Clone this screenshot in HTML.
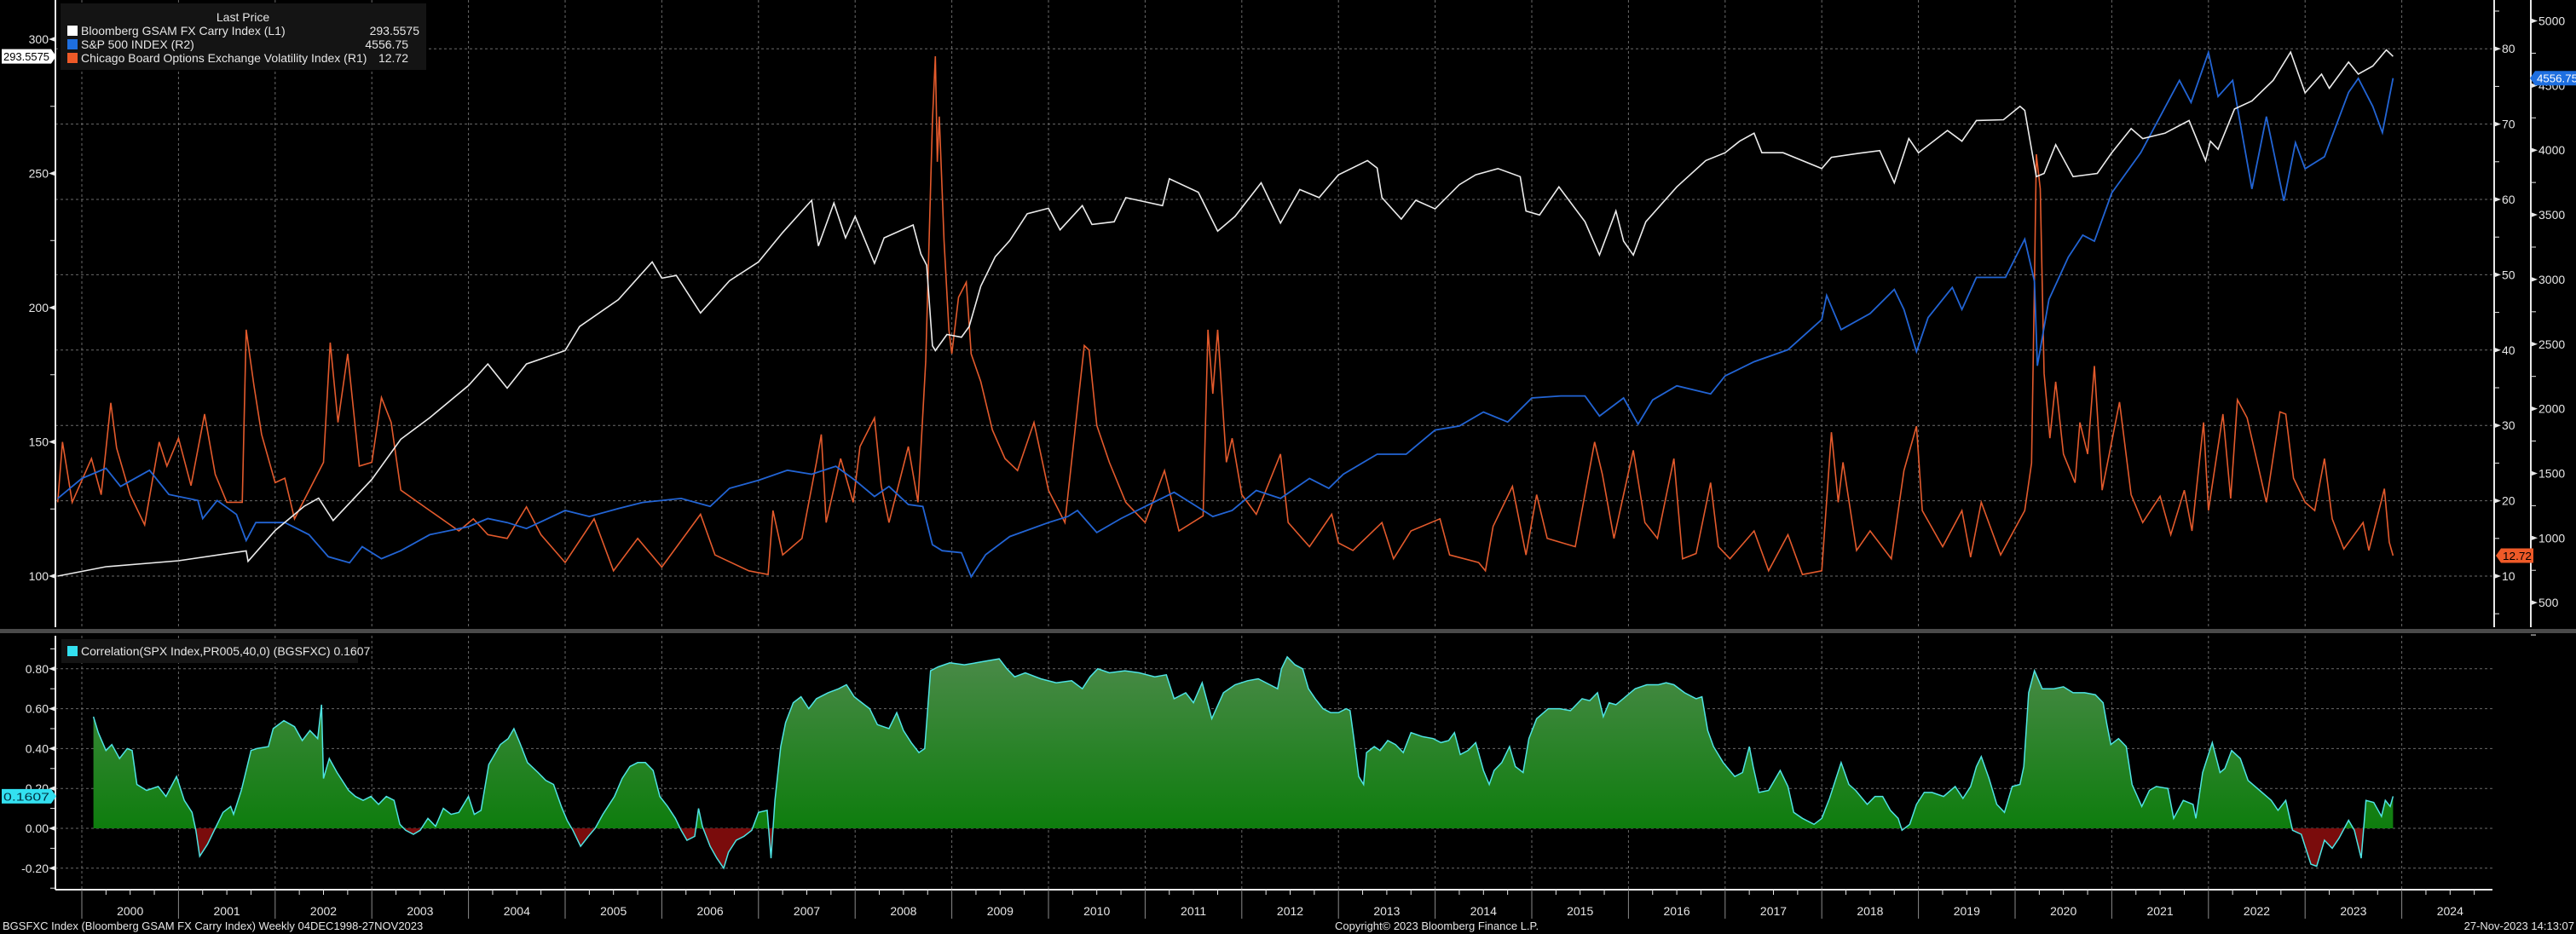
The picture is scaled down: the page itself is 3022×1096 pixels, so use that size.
<!DOCTYPE html>
<html><head><meta charset="utf-8"><title>BGSFXC vs SPX vs VIX</title>
<style>
html,body{margin:0;padding:0;background:#000;}
svg{display:block;}
text{font-family:"Liberation Sans",sans-serif;}
</style></head>
<body>
<svg id="chart" width="3022" height="1096" viewBox="0 0 3022 1096" xmlns="http://www.w3.org/2000/svg">
<defs>
<linearGradient id="gfill" x1="0" y1="0" x2="0" y2="1">
<stop offset="0" stop-color="#4a8a48"/><stop offset="1" stop-color="#007a00"/>
</linearGradient>
<clipPath id="clipPos"><rect x="0" y="0" width="3022" height="972"/></clipPath>
<clipPath id="clipNeg"><rect x="0" y="972" width="3022" height="200"/></clipPath>
</defs>
<g id="grid"></g>
<g id="axes"></g>
<g id="series"></g>
<g id="labels"></g>
</svg>
<script>
// ---- data (decimal years) ----
const carryT=[1999.75,2000.25,2001.0,2001.7,2001.72,2002.0,2002.3,2002.45,2002.6,2003.0,2003.3,2003.6,2004.0,2004.2,2004.4,2004.6,2005.0,2005.15,2005.55,2005.9,2006.0,2006.15,2006.4,2006.7,2007.0,2007.25,2007.55,2007.62,2007.78,2007.9,2008.0,2008.2,2008.3,2008.6,2008.68,2008.74,2008.8,2008.83,2008.95,2009.1,2009.18,2009.3,2009.45,2009.6,2009.78,2010.0,2010.12,2010.35,2010.45,2010.68,2010.8,2011.18,2011.25,2011.55,2011.75,2011.93,2012.2,2012.4,2012.6,2012.8,2013.0,2013.3,2013.4,2013.45,2013.65,2013.8,2014.0,2014.25,2014.42,2014.65,2014.88,2014.94,2015.08,2015.28,2015.55,2015.7,2015.87,2015.95,2016.05,2016.18,2016.5,2016.8,2017.0,2017.15,2017.3,2017.38,2017.6,2018.0,2018.1,2018.38,2018.6,2018.75,2018.9,2019.0,2019.3,2019.45,2019.6,2019.88,2020.05,2020.1,2020.22,2020.3,2020.42,2020.6,2020.85,2021.0,2021.2,2021.32,2021.55,2021.8,2021.97,2022.02,2022.1,2022.27,2022.45,2022.67,2022.85,2023.0,2023.17,2023.25,2023.45,2023.55,2023.7,2023.84,2023.91];
const carryV=[100,103.5,105.7,109.4,105.5,117,126,129,120.7,136,151,159,171,179,170,179,184,193,203,217,211,212,198,210,217,228,240,223,239,226,234,216.5,226,230.8,220,215.8,185.8,184,190,189,193,208,219,225,235,237,229,238,231,232,241,238,248,243,228.5,234,246.5,231.5,244,241,249.5,254.8,252,241,233,240,236.8,245.8,249.5,251.8,248.8,236,234.5,245,232,219.6,236,224.8,219.6,232,245,254.8,257.7,262,265,257.7,257.7,251.8,256,257.5,258.5,246.5,263,257.7,266,262,269.7,270,275,273.5,248.8,250,260.7,248.8,250,257.7,266.7,263,265,269.7,254.8,262,259,274,277,284.7,295.2,280,287,281.7,291.5,287,290,296,293.6];

const spxT=[1999.75,2000.0,2000.25,2000.4,2000.7,2000.9,2001.2,2001.25,2001.4,2001.6,2001.7,2001.8,2002.1,2002.35,2002.55,2002.77,2002.9,2003.1,2003.3,2003.6,2004.0,2004.2,2004.4,2004.6,2005.0,2005.25,2005.55,2005.8,2006.2,2006.5,2006.7,2007.0,2007.3,2007.55,2007.8,2008.0,2008.2,2008.35,2008.55,2008.7,2008.8,2008.9,2009.1,2009.2,2009.35,2009.6,2010.0,2010.2,2010.3,2010.5,2010.75,2011.0,2011.3,2011.7,2011.9,2012.15,2012.4,2012.7,2012.9,2013.05,2013.4,2013.7,2014.0,2014.25,2014.5,2014.75,2015.0,2015.3,2015.55,2015.7,2015.95,2016.1,2016.25,2016.5,2016.85,2017.0,2017.3,2017.65,2018.0,2018.05,2018.2,2018.5,2018.75,2018.85,2018.98,2019.1,2019.35,2019.45,2019.6,2019.9,2020.1,2020.2,2020.23,2020.35,2020.55,2020.7,2020.82,2021.0,2021.3,2021.5,2021.7,2021.82,2022.0,2022.1,2022.25,2022.45,2022.6,2022.78,2022.9,2023.0,2023.2,2023.45,2023.55,2023.7,2023.8,2023.91];
const spxV=[1306,1461,1539,1399,1524,1337,1290,1150,1290,1182,980,1119,1119,1026,855,808,933,840,902,1026,1088,1150,1119,1073,1213,1166,1228,1275,1306,1244,1384,1446,1524,1493,1555,1446,1321,1399,1259,1244,948,902,886,700,871,1011,1119,1166,1213,1042,1150,1244,1353,1166,1213,1368,1306,1461,1384,1493,1648,1648,1835,1866,1974,1897,2083,2099,2099,1943,2083,1881,2068,2177,2114,2254,2363,2456,2690,2876,2612,2736,2923,2767,2441,2705,2938,2767,3016,3016,3312,2985,2332,2845,3172,3343,3296,3669,3980,4260,4540,4369,4757,4415,4540,3700,4260,3607,4058,3856,3949,4447,4555,4338,4136,4556.75];

const vixT=[1999.75,1999.8,1999.9,2000.1,2000.2,2000.3,2000.36,2000.5,2000.65,2000.8,2000.88,2001.0,2001.13,2001.27,2001.38,2001.5,2001.66,2001.7,2001.78,2001.86,2002.0,2002.1,2002.2,2002.5,2002.57,2002.65,2002.75,2002.87,2003.0,2003.1,2003.2,2003.3,2003.6,2003.9,2004.05,2004.2,2004.4,2004.6,2004.75,2005.0,2005.3,2005.5,2005.75,2006.0,2006.4,2006.55,2006.9,2007.1,2007.15,2007.25,2007.45,2007.6,2007.65,2007.7,2007.85,2007.98,2008.05,2008.2,2008.27,2008.35,2008.55,2008.65,2008.73,2008.8,2008.83,2008.85,2008.87,2008.92,2008.97,2009.0,2009.07,2009.15,2009.2,2009.3,2009.42,2009.55,2009.68,2009.85,2010.0,2010.17,2010.37,2010.42,2010.5,2010.63,2010.8,2011.0,2011.2,2011.35,2011.6,2011.65,2011.7,2011.75,2011.84,2011.9,2012.0,2012.15,2012.4,2012.48,2012.7,2012.93,2013.0,2013.15,2013.45,2013.57,2013.75,2014.05,2014.15,2014.45,2014.52,2014.6,2014.8,2014.94,2015.05,2015.16,2015.45,2015.65,2015.73,2015.85,2016.05,2016.17,2016.3,2016.47,2016.56,2016.7,2016.85,2016.93,2017.05,2017.3,2017.45,2017.65,2017.8,2018.0,2018.1,2018.17,2018.22,2018.36,2018.5,2018.72,2018.85,2018.98,2019.04,2019.25,2019.45,2019.54,2019.65,2019.85,2020.1,2020.17,2020.2,2020.22,2020.26,2020.3,2020.36,2020.42,2020.5,2020.62,2020.67,2020.75,2020.82,2020.9,2021.08,2021.2,2021.32,2021.5,2021.61,2021.75,2021.83,2021.95,2022.0,2022.15,2022.23,2022.3,2022.4,2022.6,2022.74,2022.8,2022.88,2023.0,2023.1,2023.2,2023.28,2023.4,2023.6,2023.66,2023.82,2023.87,2023.91];
const vixV=[19.8,27.8,19.8,25.6,20.8,33,27,20.8,16.8,27.8,24.6,28.3,22,31.5,23.5,19.8,19.8,42.7,35.3,28.8,22.4,23,17.6,25.1,41,30.4,39.5,24.6,25.1,33.7,30.4,21.4,18.7,16,17.6,15.5,15,19.2,15.5,11.8,17.6,10.7,15,11.2,18.2,12.8,10.7,10.2,18.7,12.8,15,25.1,28.8,17.1,25.6,19.8,27.2,31,22,17.1,27.2,19.8,38.5,70.5,79,65,71,54.5,42.7,39.5,47,49,39.5,35.8,29.4,25.6,24,30.4,21.4,17.1,40.6,40,30,25.1,19.8,17.1,24,16,18,42.7,34.2,42.7,25.1,28.3,20.8,18.2,26.2,17.1,13.9,18.2,14.4,13.4,17.1,12.3,16,17.6,12.8,11.8,10.7,16.6,21.9,12.8,20.8,15,13.9,27.8,23.5,15,26.7,17.1,15,25.6,12.3,13,22.4,13.9,12.3,16,10.7,15.5,10.2,10.7,29.1,19.8,25.1,13.4,16,12.3,24,29.9,18.7,13.9,18.7,12.5,19.8,12.8,18.7,25,49.1,66,61.4,36.9,28.3,35.8,26.2,22.4,30.4,26.2,37.9,21.4,33.1,20.8,17.1,20.6,15.5,21.4,16,30.4,18.7,31.5,20.3,33.4,31,19.8,31.8,31.5,23,19.8,18.7,25.6,17.6,13.6,17.1,13.4,21.6,14.5,12.72];

// correlation as [decimal year, value] pairs
const corrPts=[[2000.12,.56],[2000.17,.48],[2000.25,.39],[2000.31,.42],[2000.39,.35],[2000.47,.40],[2000.52,.39],[2000.57,.22],[2000.67,.19],[2000.79,.21],[2000.87,.16],[2000.98,.26],[2001.06,.14],[2001.14,.08],[2001.18,-.01],[2001.22,-.14],[2001.30,-.08],[2001.38,0],[2001.46,.08],[2001.54,.11],[2001.57,.07],[2001.65,.19],[2001.75,.39],[2001.81,.40],[2001.93,.41],[2001.98,.50],[2002.09,.54],[2002.20,.51],[2002.28,.44],[2002.36,.49],[2002.44,.45],[2002.48,.62],[2002.50,.25],[2002.56,.35],[2002.64,.28],[2002.76,.19],[2002.83,.16],[2002.91,.14],[2002.99,.16],[2003.07,.12],[2003.15,.16],[2003.23,.14],[2003.29,.02],[2003.35,-.01],[2003.43,-.03],[2003.50,-.01],[2003.58,.05],[2003.66,.01],[2003.74,.10],[2003.82,.07],[2003.90,.08],[2004.0,.16],[2004.06,.07],[2004.13,.09],[2004.21,.32],[2004.33,.42],[2004.41,.45],[2004.47,.50],[2004.53,.43],[2004.61,.33],[2004.72,.28],[2004.80,.24],[2004.88,.22],[2004.96,.11],[2005.02,.04],[2005.08,-.01],[2005.16,-.09],[2005.24,-.04],[2005.31,0],[2005.39,.07],[2005.51,.16],[2005.59,.25],[2005.67,.31],[2005.75,.33],[2005.83,.33],[2005.91,.29],[2005.98,.16],[2006.06,.11],[2006.14,.05],[2006.20,-.01],[2006.26,-.06],[2006.34,-.04],[2006.38,.10],[2006.42,.01],[2006.50,-.09],[2006.57,-.15],[2006.64,-.20],[2006.69,-.12],[2006.77,-.06],[2006.85,-.04],[2006.93,-.01],[2007.0,.08],[2007.09,.09],[2007.13,-.15],[2007.17,.14],[2007.23,.41],[2007.28,.53],[2007.36,.63],[2007.44,.66],[2007.52,.60],[2007.60,.65],[2007.72,.68],[2007.83,.70],[2007.91,.72],[2007.99,.66],[2008.07,.63],[2008.15,.60],[2008.23,.52],[2008.35,.50],[2008.43,.58],[2008.50,.49],[2008.58,.43],[2008.66,.38],[2008.72,.40],[2008.78,.79],[2008.86,.81],[2008.98,.83],[2009.13,.82],[2009.25,.83],[2009.37,.84],[2009.49,.85],[2009.57,.80],[2009.65,.76],[2009.76,.78],[2009.92,.75],[2010.08,.73],[2010.24,.74],[2010.35,.70],[2010.43,.76],[2010.51,.80],[2010.63,.78],[2010.79,.79],[2010.94,.78],[2011.10,.76],[2011.22,.77],[2011.30,.65],[2011.42,.68],[2011.50,.63],[2011.59,.73],[2011.69,.55],[2011.81,.68],[2011.93,.72],[2012.06,.74],[2012.17,.75],[2012.29,.72],[2012.37,.70],[2012.41,.80],[2012.47,.86],[2012.55,.82],[2012.63,.80],[2012.69,.70],[2012.76,.65],[2012.84,.60],[2012.92,.58],[2013.0,.58],[2013.08,.60],[2013.12,.59],[2013.16,.45],[2013.21,.26],[2013.26,.22],[2013.29,.38],[2013.37,.41],[2013.43,.39],[2013.51,.44],[2013.59,.42],[2013.67,.38],[2013.75,.48],[2013.87,.46],[2013.98,.45],[2014.06,.43],[2014.14,.44],[2014.20,.48],[2014.26,.37],[2014.34,.39],[2014.42,.43],[2014.50,.29],[2014.56,.22],[2014.61,.29],[2014.69,.33],[2014.77,.41],[2014.83,.31],[2014.91,.28],[2014.97,.45],[2015.05,.55],[2015.17,.60],[2015.29,.60],[2015.40,.59],[2015.52,.65],[2015.60,.64],[2015.68,.68],[2015.74,.56],[2015.80,.63],[2015.87,.62],[2015.97,.66],[2016.07,.70],[2016.19,.72],[2016.31,.72],[2016.39,.73],[2016.47,.72],[2016.58,.68],[2016.70,.65],[2016.76,.66],[2016.82,.49],[2016.88,.41],[2016.98,.33],[2017.10,.26],[2017.18,.28],[2017.25,.41],[2017.29,.31],[2017.35,.18],[2017.45,.19],[2017.57,.29],[2017.65,.21],[2017.71,.08],[2017.80,.05],[2017.92,.02],[2018.0,.05],[2018.08,.15],[2018.20,.33],[2018.28,.22],[2018.35,.19],[2018.47,.12],[2018.55,.16],[2018.63,.16],[2018.71,.09],[2018.79,.05],[2018.83,-.01],[2018.91,.02],[2018.98,.12],[2019.06,.18],[2019.14,.18],[2019.26,.16],[2019.38,.21],[2019.46,.15],[2019.54,.21],[2019.60,.31],[2019.65,.36],[2019.73,.25],[2019.81,.12],[2019.89,.08],[2019.97,.21],[2020.05,.22],[2020.09,.31],[2020.14,.68],[2020.20,.79],[2020.28,.70],[2020.40,.70],[2020.50,.71],[2020.60,.68],[2020.72,.68],[2020.83,.67],[2020.91,.63],[2020.95,.52],[2020.99,.42],[2021.07,.45],[2021.15,.41],[2021.21,.22],[2021.31,.11],[2021.39,.19],[2021.46,.21],[2021.58,.20],[2021.64,.05],[2021.74,.14],[2021.84,.12],[2021.87,.05],[2021.94,.28],[2022.04,.43],[2022.12,.28],[2022.17,.30],[2022.24,.39],[2022.33,.35],[2022.41,.24],[2022.53,.19],[2022.65,.14],[2022.72,.09],[2022.80,.14],[2022.87,-.01],[2022.96,-.03],[2023.06,-.18],[2023.12,-.19],[2023.20,-.06],[2023.28,-.10],[2023.35,-.05],[2023.45,.04],[2023.51,-.01],[2023.58,-.15],[2023.63,.14],[2023.71,.13],[2023.79,.06],[2023.83,.14],[2023.88,.11],[2023.91,.1607]];

const leftTicks=[100,150,200,250,300];
const vixTicks=[10,20,30,40,50,60,70,80];
const spxTicks=[500,1000,1500,2000,2500,3000,3500,4000,4500,5000];
const corrTicks=[-0.2,0,0.2,0.4,0.6,0.8];
const years=[2000,2001,2002,2003,2004,2005,2006,2007,2008,2009,2010,2011,2012,2013,2014,2015,2016,2017,2018,2019,2020,2021,2022,2023,2024];

// ---- axis functions ----
const X0=96, PXY=113.4;
const xT=t=>X0+(t-2000)*PXY;
const yL=v=>676-(v-100)*3.15;
const yV=v=>676-(v-10)*8.84;
const yS=v=>783-v*0.1517;
const yC=v=>972-v*234;
const NS='http://www.w3.org/2000/svg';
function mk(tag,attrs,parent){const e=document.createElementNS(NS,tag);for(const k in attrs)e.setAttribute(k,attrs[k]);parent.appendChild(e);return e;}
const G=document.getElementById('grid'),A=document.getElementById('axes'),S=document.getElementById('series'),L=document.getElementById('labels');
const LEFT=65, RV=2926, RS=2969, RB=2924;

vixTicks.forEach(v=>{const e=mk('line',{x1:LEFT,x2:RV,y1:yV(v),y2:yV(v),stroke:'#6a6a6a','stroke-width':1,'stroke-dasharray':'3,3'},G);

});
corrTicks.forEach(v=>{const e=mk('line',{x1:LEFT,x2:RB,y1:yC(v),y2:yC(v),stroke:'#6a6a6a','stroke-width':1,'stroke-dasharray':'3,3'},G);

});
years.forEach(y=>{const x=xT(y);if(x>RB)return;
const e=mk('line',{x1:x,x2:x,y1:0,y2:736,stroke:'#6a6a6a','stroke-width':1,'stroke-dasharray':'3,3'},G);


const f=mk('line',{x1:x,x2:x,y1:746,y2:1043,stroke:'#6a6a6a','stroke-width':1,'stroke-dasharray':'3,3'},G);

});

[[LEFT,0,LEFT,736],[RV,0,RV,736],[RS,0,RS,736],[LEFT,746,LEFT,1044],[LEFT,1044,RB,1044]].forEach(a=>{
const e=mk('line',{x1:a[0],y1:a[1],x2:a[2],y2:a[3],stroke:'#e8e8e8','stroke-width':2},A);

});
const sep=mk('rect',{x:0,y:738,width:3022,height:5,fill:'#4a4a4a'},A);



function tri(x,y,dir,parent){const d=dir>0?`M${x},${y-3} L${x+8},${y} L${x},${y+3}Z`:`M${x},${y-3} L${x-8},${y} L${x},${y+3}Z`;return mk('path',{d:d,fill:'#e8e8e8'},parent);}
function txt(s,x,y,anchor,size,fill,parent){const e=mk('text',{x:x,y:y,'text-anchor':anchor,'font-size':size,fill:fill||'#e6e6e6'},parent);e.textContent=s;return e;}

for(let v=100;v<=300;v+=25){const e=mk('line',{x1:LEFT-6,x2:LEFT,y1:yL(v),y2:yL(v),stroke:'#e8e8e8'},A);

}
leftTicks.forEach(v=>{tri(LEFT,yL(v),-1,A);const t=txt(String(v),57,yL(v)+5,'end',14,null,L);

});
for(let v=5;v<=85;v+=5){const e=mk('line',{x1:RV,x2:RV+6,y1:yV(v),y2:yV(v),stroke:'#e8e8e8'},A);

}
vixTicks.forEach(v=>{tri(RV,yV(v),1,A);const t=txt(String(v),2935,yV(v)+5,'start',14,null,L);

});
for(let v=250;v<=5000;v+=250){const e=mk('line',{x1:RS,x2:RS+6,y1:yS(v),y2:yS(v),stroke:'#e8e8e8'},A);

}
spxTicks.forEach(v=>{tri(RS,yS(v),1,A);const t=txt(String(v),2978,yS(v)+5,'start',14,null,L);

});
for(let v=-0.3;v<=0.91;v+=0.1){const e=mk('line',{x1:LEFT-6,x2:LEFT,y1:yC(v),y2:yC(v),stroke:'#e8e8e8'},A);

}
corrTicks.forEach(v=>{tri(LEFT,yC(v),-1,A);const t=txt(v.toFixed(2),57,yC(v)+5,'end',14,null,L);

});
years.forEach(y=>{const x=xT(y);
const e=mk('line',{x1:x,x2:x,y1:1044,y2:1078,stroke:'#8a8a8a'},A);


for(let q=1;q<4;q++){if(xT(y+q/4)>RB)break;const m=mk('line',{x1:xT(y+q/4),x2:xT(y+q/4),y1:1044,y2:1050,stroke:'#e8e8e8'},A);

}
const t=txt(String(y),xT(y+0.5),1074,'middle',14,null,L);

});

// series
function pathFrom(T,V,yf){const n=Math.min(T.length,V.length);let d='';for(let i=0;i<n;i++){d+=(i?' L':'M')+xT(T[i]).toFixed(1)+','+yf(V[i]).toFixed(1);}return d;}
const corrT=corrPts.map(p=>p[0]), corrV=corrPts.map(p=>p[1]);
const cLine=pathFrom(corrT,corrV,yC);
const areaD=cLine+` L${xT(corrT[corrT.length-1]).toFixed(1)},972 L${xT(corrT[0]).toFixed(1)},972 Z`;
const ap=mk('path',{d:areaD,fill:'url(#gfill)','clip-path':'url(#clipPos)'},S);


const an=mk('path',{d:areaD,fill:'#7a0c0c','clip-path':'url(#clipNeg)'},S);


const cl=mk('path',{d:cLine,fill:'none',stroke:'#4fe3e3','stroke-width':1.5},S);



const vl=mk('path',{d:pathFrom(vixT,vixV,yV),fill:'none',stroke:'#e35a2c','stroke-width':1.6},S);


const sl=mk('path',{d:pathFrom(spxT,spxV,yS),fill:'none',stroke:'#2264d4','stroke-width':1.8},S);


const wl=mk('path',{d:pathFrom(carryT,carryV,yL),fill:'none',stroke:'#ececec','stroke-width':1.6},S);



function tag(x,y,w,val,bg,fg,dir,name){const g=mk('g',{},L);


const h=17;let d;
if(dir<0){d=`M${x},${y-h/2} L${x+w},${y-h/2} L${x+w+6},${y} L${x+w},${y+h/2} L${x},${y+h/2}Z`;}
else{d=`M${x+6},${y-h/2} L${x+w+6},${y-h/2} L${x+w+6},${y+h/2} L${x+6},${y+h/2} L${x},${y}Z`;}
mk('path',{d:d,fill:bg},g);
const tx=dir<0?x+2:x+8;
const t=mk('text',{x:tx,y:y+5,'font-size':13,fill:fg,textLength:w-4,lengthAdjust:'spacingAndGlyphs'},g);
t.textContent=val;}
tag(2,yL(carryV[carryV.length-1]),58,'293.5575','#ffffff','#000000',-1,'carry-last-value-tag');
tag(2968,yS(spxV[spxV.length-1]),52,'4556.75','#1e6fe0','#ffffff',1,'spx-last-value-tag');
tag(2928,yV(vixV[vixV.length-1]),38,'12.72','#ee5a28','#000000',1,'vix-last-value-tag');
tag(2,yC(corrV[corrV.length-1]),58,'0.1607','#33e0f0','#003040',-1,'corr-last-value-tag');

const lg=mk('g',{},L);


mk('rect',{x:71,y:4,width:429,height:78,fill:'#141414'},lg);
txt('Last Price',285,25,'middle',14,null,lg);
const items=[['Bloomberg GSAM FX Carry Index  (L1)','293.5575','#ffffff',492],['S&P 500 INDEX  (R2)','4556.75','#1e6fe0',479],['Chicago Board Options Exchange Volatility Index  (R1)','12.72','#ee5a28',479]];
items.forEach((it,i)=>{const y=36+i*16;
const r=mk('rect',{x:79,y:y-6,width:12,height:12,fill:it[2]},lg);


const t=txt(it[0],95,y+5,'start',14,null,lg);


txt(it[1],it[3],y+5,'end',14,null,lg);});
const bl=mk('g',{},L);


mk('rect',{x:72,y:750,width:348,height:28,fill:'#141414'},bl);
mk('rect',{x:79,y:758,width:12,height:12,fill:'#33e0f0'},bl);
const ct=txt('Correlation(SPX Index,PR005,40,0) (BGSFXC) 0.1607',95,769,'start',14,null,bl);



const f1=txt('BGSFXC Index (Bloomberg GSAM FX Carry Index)  Weekly 04DEC1998-27NOV2023',3,1091,'start',13,null,L);


const f2=txt('Copyright\u00A9 2023 Bloomberg Finance L.P.',1566,1091,'start',13,null,L);


const f3=txt('27-Nov-2023 14:13:07',3020,1091,'end',13,null,L);


</script>
</body></html>
